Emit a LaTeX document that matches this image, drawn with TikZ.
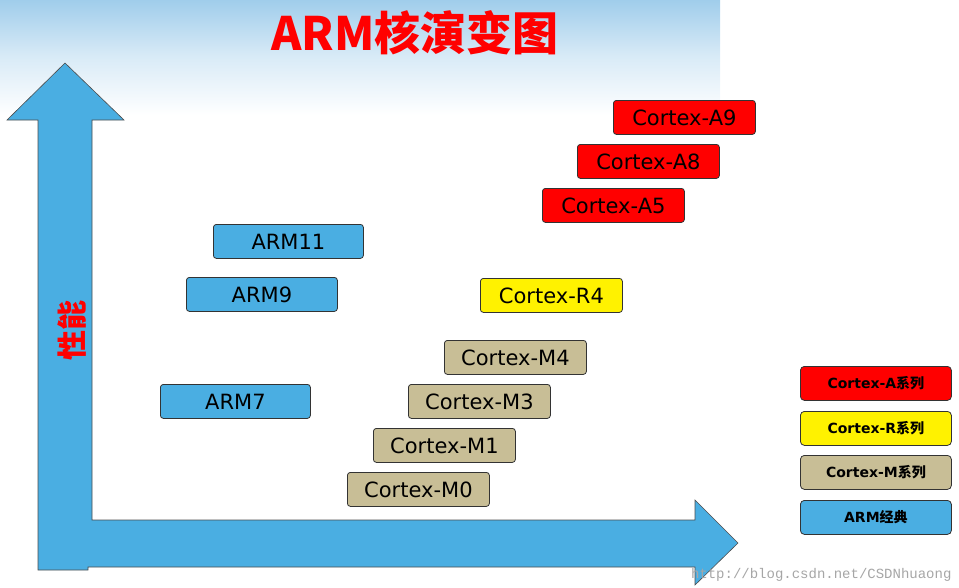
\documentclass[tikz,border=0pt]{standalone}
\usepackage{fontspec}
\setmainfont{DejaVu Sans}
\newfontfamily\cjk{Noto Sans CJK SC}
\newfontfamily\monof{Liberation Mono}
\begin{document}
\begin{tikzpicture}[x=1pt,y=-1pt,
  chip/.style={draw=black!80,line width=0.8pt,rounded corners=3pt,anchor=north west,inner sep=0pt,font=\fontsize{21}{21}\selectfont},
  leg/.style={draw=black!80,line width=0.8pt,rounded corners=4pt,anchor=north west,inner sep=0pt,font=\fontsize{14}{14}\selectfont\bfseries}]
\useasboundingbox (0,0) rectangle (959,587);
\definecolor{sky}{RGB}{160,205,235}
\shade[top color=sky,bottom color=white,middle color=sky!40] (0,0) rectangle (720,115);
\node[font=\cjk\bfseries\fontsize{46}{46}\selectfont,text=red] (title) at (415,33) {ARM核演变图};
\definecolor{ab}{RGB}{74,174,226}
\definecolor{tan}{RGB}{200,190,150}
\tikzset{arr/.style={fill=ab,draw=black!70,line width=0.6pt}}
\draw[arr] (38,570) -- (38,120) -- (7,120) -- (65,63) -- (124,120) -- (92,120) -- (92,520) -- (695,520) -- (695,500) -- (738,543) -- (695,585) -- (695,567) -- (88,567) -- (88,570) -- cycle;
\node[rotate=90,text=red,font=\cjk\bfseries\fontsize{30}{30}\selectfont] (perf) at (72,330) {性能};
\foreach \n/\x/\y/\w/\c/\t in {a9/613/100/142/red/Cortex-A9, a8/577/144/142/red/Cortex-A8, a5/542/188/142/red/Cortex-A5, r4/480/278/142/yellow/Cortex-R4, m4/444/340/142/tan/Cortex-M4, m3/408/384/142/tan/Cortex-M3, m1/373/428/142/tan/Cortex-M1, m0/347/472/142/tan/Cortex-M0, a11/213/224/150/ab/ARM11, a9c/186/277/151/ab/ARM9, a7/160/384/150/ab/ARM7}
  \node[chip,fill=\c,minimum width=\w,minimum height=34] (\n) at (\x,\y) {\t};
\node[leg,fill=red,minimum width=151,minimum height=34] (la) at (800,366) {Cortex-A{\cjk 系列}};
\node[leg,fill=yellow,minimum width=151,minimum height=34] (lr) at (800,411) {Cortex-R{\cjk 系列}};
\node[leg,fill=tan,minimum width=151,minimum height=34] (lm) at (800,455) {Cortex-M{\cjk 系列}};
\node[leg,fill=ab,minimum width=151,minimum height=34] (lc) at (800,500) {ARM{\cjk 经典}};
\node[anchor=east,text=black!35,font=\monof\fontsize{14}{14}\selectfont] (wm) at (955,575) {http://blog.csdn.net/CSDNhuaong};
\end{tikzpicture}
\end{document}
